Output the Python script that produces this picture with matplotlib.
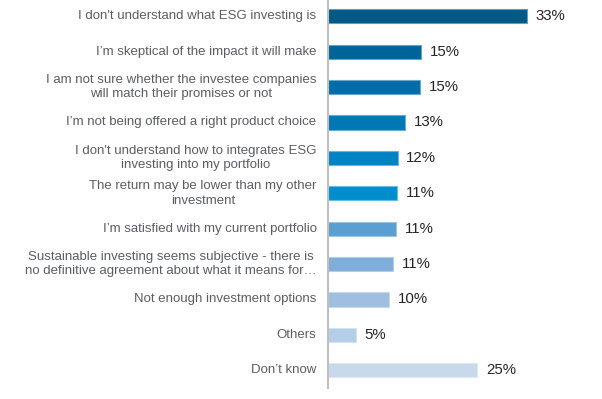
import matplotlib
matplotlib.use("Agg")
import matplotlib.pyplot as plt
import matplotlib.colors as mcolors

categories = [
    "I don't understand what ESG investing is",
    "I\u2019m skeptical of the impact it will make",
    "I am not sure whether the investee companies\nwill match their promises or not",
    "I\u2019m not being offered a right product choice",
    "I don't understand how to integrates ESG\ninvesting into my portfolio",
    "The return may be lower than my other\ninvestment",
    "I\u2019m satisfied with my current portfolio",
    "Sustainable investing seems subjective - there is\nno definitive agreement about what it means for\u2026",
    "Not enough investment options",
    "Others",
    "Don\u2019t know",
]
values = [32.9, 15.4, 15.3, 12.7, 11.5, 11.4, 11.2, 10.7, 10.1, 4.6, 24.7]
value_labels = ["33%", "15%", "15%", "13%", "12%", "11%", "11%", "11%", "10%", "5%", "25%"]
colors = ["#005A85", "#00649A", "#006DA8", "#0078B6", "#0083C2", "#008ECE",
          "#5A9ED2", "#80AEDA", "#A0BFE0", "#B6CDE7", "#C8D9EC"]

plt.rcParams['font.family'] = ['Liberation Sans', 'DejaVu Sans']

fig = plt.figure(figsize=(6.02, 3.99), dpi=100)
W, H = 602, 399
ax_left, ax_right, ax_top, ax_bottom = 328, 600, 0, 388
ax = fig.add_axes([ax_left / W, 1 - ax_bottom / H, (ax_right - ax_left) / W, (ax_bottom - ax_top) / H])

ypos = list(range(len(categories)))
edges = []
for c in colors:
    r, g, b = mcolors.to_rgb(c)
    edges.append((r * 0.6 + 0.4, g * 0.6 + 0.4, b * 0.6 + 0.4))

ax.barh(ypos, values, height=0.4, color=colors, edgecolor=edges, linewidth=0.8)

ax.set_xlim(0, 45.0)
ax.set_ylim(10.5, -0.46)

for y, v, lab in zip(ypos, values, value_labels):
    ax.text(v + 1.45, y, lab, va='center', ha='left', fontsize=10.8, color='#262626')

for y, cat in zip(ypos, categories):
    ax.text(-1.9, y, cat, va='center', ha='right', multialignment='center',
            fontsize=9.5, color='#5A5D63', linespacing=1.3)

for s in ['top', 'right', 'bottom']:
    ax.spines[s].set_visible(False)
ax.spines['left'].set_color('#BFBFBF')
ax.spines['left'].set_linewidth(1.5)
ax.set_xticks([])
ax.set_yticks([])

fig.savefig("out.png", dpi=100)
